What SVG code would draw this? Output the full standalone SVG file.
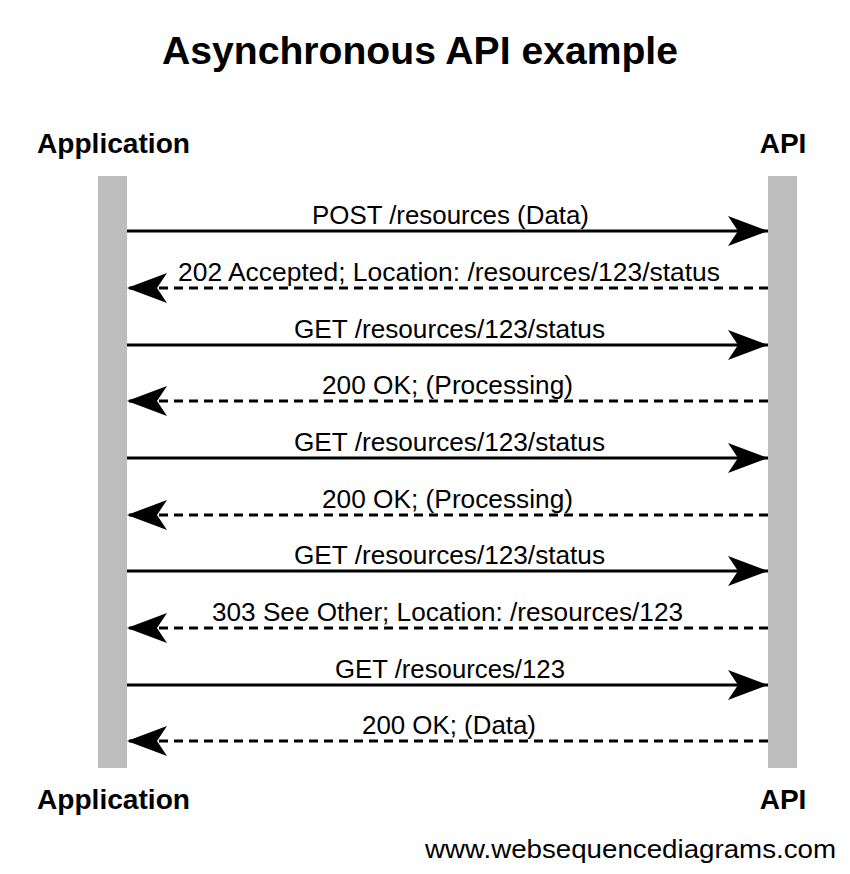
<svg xmlns="http://www.w3.org/2000/svg" width="850" height="874" viewBox="0 0 850 874">
<style>
text{font-family:"Liberation Sans",Arial,sans-serif;fill:#000}
.t{font-size:38px;font-weight:bold}
.p{font-size:28px;font-weight:bold}
.m{font-size:25px}
.s{stroke:#000;stroke-width:3;fill:none}
.d{stroke-dasharray:9,6}
</style>
<defs>
<marker id="ar" markerUnits="userSpaceOnUse" viewBox="0 0 40 30" refX="40" refY="15" markerWidth="40" markerHeight="30" orient="auto"><path d="M0,0 L40,15 L0,30 L10,15 Z" fill="#000"/></marker>
</defs>
<rect width="850" height="874" fill="#fff"/>
<text class="t" x="162" y="64" textLength="516" lengthAdjust="spacingAndGlyphs">Asynchronous API example</text>
<g id="app"><rect x="98" y="176" width="29" height="592" fill="#bdbdbd"/>
<text class="p" x="37" y="153" textLength="153" lengthAdjust="spacingAndGlyphs">Application</text>
<text class="p" x="37" y="809" textLength="153" lengthAdjust="spacingAndGlyphs">Application</text></g>
<g id="api"><rect x="768" y="176" width="29" height="592" fill="#bdbdbd"/>
<text class="p" x="783" y="153" text-anchor="middle">API</text>
<text class="p" x="783" y="809" text-anchor="middle">API</text></g>
<g id="connectors">
<line class="s" x1="127" y1="231" x2="768" y2="231" marker-end="url(#ar)"/>
<text class="m" x="312" y="224" textLength="277" lengthAdjust="spacingAndGlyphs">POST /resources (Data)</text>
<line class="s d" x1="768" y1="288" x2="127" y2="288" marker-end="url(#ar)"/>
<text class="m" x="178" y="281" textLength="542" lengthAdjust="spacingAndGlyphs">202 Accepted; Location: /resources/123/status</text>
<line class="s" x1="127" y1="345" x2="768" y2="345" marker-end="url(#ar)"/>
<text class="m" x="294" y="338" textLength="311" lengthAdjust="spacingAndGlyphs">GET /resources/123/status</text>
<line class="s d" x1="768" y1="401" x2="127" y2="401" marker-end="url(#ar)"/>
<text class="m" x="322" y="394" textLength="251" lengthAdjust="spacingAndGlyphs">200 OK; (Processing)</text>
<line class="s" x1="127" y1="458" x2="768" y2="458" marker-end="url(#ar)"/>
<text class="m" x="294" y="451" textLength="311" lengthAdjust="spacingAndGlyphs">GET /resources/123/status</text>
<line class="s d" x1="768" y1="515" x2="127" y2="515" marker-end="url(#ar)"/>
<text class="m" x="322" y="508" textLength="251" lengthAdjust="spacingAndGlyphs">200 OK; (Processing)</text>
<line class="s" x1="127" y1="571" x2="768" y2="571" marker-end="url(#ar)"/>
<text class="m" x="294" y="564" textLength="311" lengthAdjust="spacingAndGlyphs">GET /resources/123/status</text>
<line class="s d" x1="768" y1="628" x2="127" y2="628" marker-end="url(#ar)"/>
<text class="m" x="212" y="621" textLength="471" lengthAdjust="spacingAndGlyphs">303 See Other; Location: /resources/123</text>
<line class="s" x1="127" y1="685" x2="768" y2="685" marker-end="url(#ar)"/>
<text class="m" x="335" y="678" textLength="230" lengthAdjust="spacingAndGlyphs">GET /resources/123</text>
<line class="s d" x1="768" y1="741" x2="127" y2="741" marker-end="url(#ar)"/>
<text class="m" x="362" y="734" textLength="174" lengthAdjust="spacingAndGlyphs">200 OK; (Data)</text>
</g>
<text x="425" y="858" textLength="411" lengthAdjust="spacingAndGlyphs" style="font-size:26px">www.websequencediagrams.com</text>
</svg>
